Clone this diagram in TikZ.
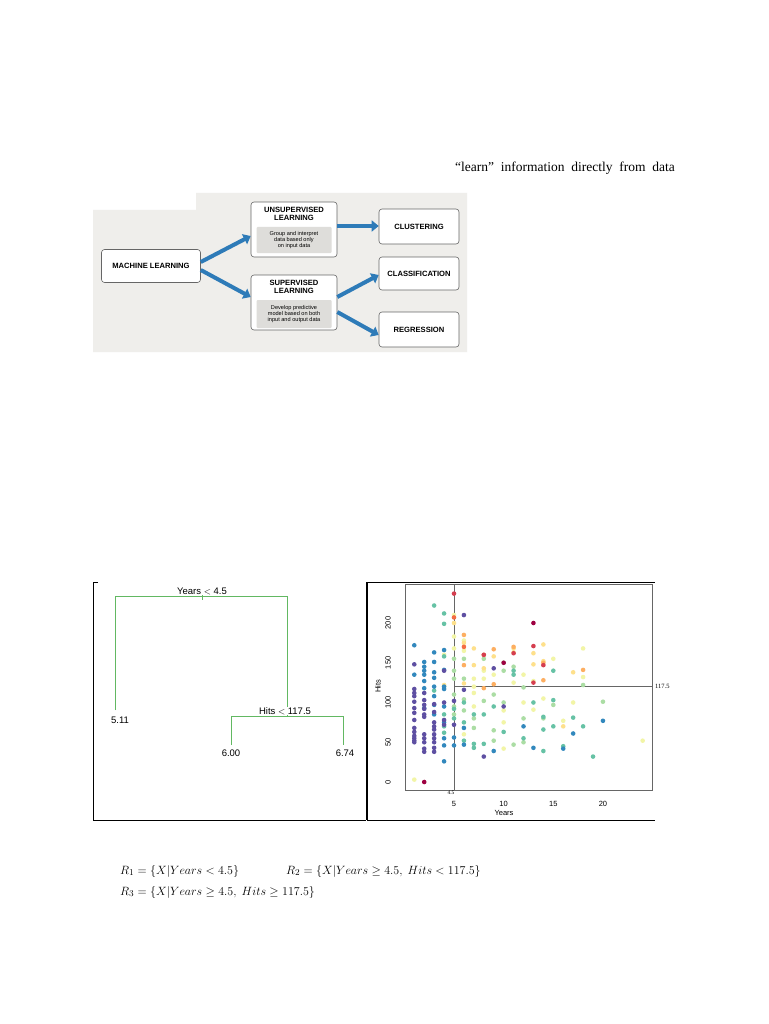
\documentclass[tikz,border=0pt]{standalone}
\usepackage{fontspec}
\setmainfont{Liberation Serif}
\newfontfamily\sansf{Liberation Sans}
\usetikzlibrary{arrows.meta}
\definecolor{bgg}{HTML}{EFEEEB}
\definecolor{inner}{HTML}{DEDDDA}
\definecolor{arr}{HTML}{2E7BB8}
\definecolor{treeg}{HTML}{62B862}
\definecolor{cP}{HTML}{5E4FA2}
\definecolor{cB}{HTML}{3288BD}
\definecolor{cT}{HTML}{66C2A5}
\definecolor{cG}{HTML}{ABDDA4}
\definecolor{cY}{HTML}{F2F5A6}
\definecolor{cLO}{HTML}{FEE08B}
\definecolor{cO}{HTML}{FDAE61}
\definecolor{cDO}{HTML}{F46D43}
\definecolor{cR}{HTML}{D53E4F}
\definecolor{cDR}{HTML}{9E0142}
\tikzset{
  mlbox/.style={draw=black!60,fill=white,rounded corners=3pt,line width=0.6pt,font=\sansf\bfseries\fontsize{7.6}{8.6}\selectfont,align=center},
  subbox/.style={fill=inner,rounded corners=1pt,font=\sansf\fontsize{5.6}{6.2}\selectfont,align=center,inner sep=1pt},
  ttl/.style={font=\sansf\bfseries\fontsize{7.6}{8.6}\selectfont,align=center},
  bigarr/.style={arr,line width=4pt,-{Triangle[length=7pt,width=11pt]}},
  tl/.style={treeg,line width=0.8pt},
  tlab/.style={font=\sansf\fontsize{9.5}{10}\selectfont,inner sep=0pt},
  axl/.style={font=\sansf\fontsize{7.5}{8}\selectfont,inner sep=0pt},
}
\newcommand{\pts}[2]{\foreach \a/\b in {#2}{\fill[#1] ({454+(\a-5)*9.93},{782-\b*0.795}) circle (2.3);}}
\begin{document}
\begin{tikzpicture}[x=1pt,y=-1pt]
\useasboundingbox (0,0) rectangle (768,1024);
\fill[white] (0,0) rectangle (768,1024);
\node[anchor=east,font=\fontsize{13.5}{15}\selectfont,inner sep=0pt] (quote) at (675,168) {“learn”\ \ information\ \ directly\ \ from\ \ data};
% ML diagram
\fill[bgg] (93,210) -- (196,210) -- (196,193) -- (467,193) -- (467,352) -- (93,352) -- cycle;
\node[mlbox,minimum width=99pt,minimum height=33pt] (ml) at (151,266) {MACHINE LEARNING};
\node[mlbox,minimum width=86pt,minimum height=55pt] (uns) at (294,229.5) {};
\node[ttl] (unst) at (294,214) {UNSUPERVISED\\LEARNING};
\node[subbox,minimum width=75pt,minimum height=26pt] (unsd) at (294,240) {Group and interpret\\data based only\\on input data};
\node[mlbox,minimum width=86pt,minimum height=55pt] (sup) at (294,302.5) {};
\node[ttl] (supt) at (294,287) {SUPERVISED\\LEARNING};
\node[subbox,minimum width=75pt,minimum height=28pt] (supd) at (294,314) {Develop predictive\\model based on both\\input and output data};
\node[mlbox,minimum width=80pt,minimum height=35pt] (clu) at (419,226.5) {CLUSTERING};
\node[mlbox,minimum width=80pt,minimum height=33pt] (cla) at (419,273.5) {CLASSIFICATION};
\node[mlbox,minimum width=80pt,minimum height=35pt] (reg) at (419,329.5) {REGRESSION};
\draw[bigarr] (ml.east) ++(0,-4) coordinate (m1) -- (uns.west|-0,236);
\draw[bigarr] (ml.east) ++(0,4) coordinate (m2) -- (sup.west|-0,297);
\draw[bigarr] (uns.east|-0,226) -- (clu.west|-0,226);
\draw[bigarr] (sup.east|-0,297) -- (cla.west|-0,275);
\draw[bigarr] (sup.east|-0,312) -- (reg.west|-0,335);
% panels
\draw[line width=0.8pt] (98,582) -- (93,582) -- (93,820) -- (366,820);
\draw[line width=1.2pt] (367,582) -- (367,820);
\draw[line width=0.6pt] (367,582) -- (655,582);
\draw[line width=0.6pt] (367,820) -- (655,820);
% tree
\draw[tl] (115,710) -- (115,596) -- (287,596) -- (287,716);
\draw[tl] (202,592) -- (202,600);
\draw[tl] (231,745) -- (231,716) -- (343,716) -- (343,745);
\node[tlab,fill=white,inner sep=0.5pt] (r) at (202,591) {Years $<$ 4.5};
\node[tlab,fill=white,inner sep=0.5pt] (h) at (285,711) {Hits $<$ 117.5};
\node[tlab] (l1) at (120,720) {5.11};
\node[tlab] (l2) at (231,753) {6.00};
\node[tlab] (l3) at (345,753) {6.74};
% scatter
\draw[black!60,line width=0.5pt] (405,584) rectangle (652,790);
\draw[black!60,line width=0.5pt] (454,584) -- (454,790);
\draw[black!60,line width=0.5pt] (454,686) -- (652,686);
\node[font=\fontsize{6.5}{7}\selectfont,anchor=west,inner sep=0pt] (lab1) at (655,686) {117.5};
\node[font=\fontsize{5.5}{6}\selectfont,inner sep=0pt] (lab2) at (451,793) {4.5};
\foreach \v in {5,10,15,20}{\node[axl] at ({454+(\v-5)*9.93},804) {\v};}
\node[axl] (xl) at (504,813) {Years};
\foreach \v in {0,50,100,150,200}{\node[axl,rotate=90] at (388,{782-\v*0.795}) {\v};}
\node[axl,rotate=90] (yl) at (378,686) {Hits};
\pts{cG}{4/120,5/155,5/130,5/110,5/95,5/85,6/155,6/130,6/90,7/80,8/155,8/102,9/110,9/65,9/52,10/150,10/140,10/100,11/145,12/119,12/80,12/50,14/80,15/97,18/122,20/101,11/47,7/68,6/104,5/140}
\pts{cY}{1/3,5/210,5/183,5/168,6/178,6/165,7/95,7/120,7/112,8/130,9/135,10/90,10/75,10/42,11/125,12/135,12/100,13/127,13/91,14/105,15/155,16/77,17/100,18/132,18/168,24/52,6/60,8/140,4/160,7/130}
\pts{cLO}{5/200,6/175,7/168,7/147,8/143,9/158,11/163,11/168,13/162,13/148,14/173,14/152,16/70,17/138,6/124,4/122}
\pts{cT}{3/222,4/212,4/199,4/158,3/115,4/85,4/70,5/92,5/80,6/100,6/75,7/85,7/48,7/43,8/85,8/48,9/95,10/63,11/140,11/135,12/55,13/100,14/82,14/66,14/39,15/140,15/103,15/70,16/45,17/81,18/70,19/32,4/62,6/52}
\pts{cB}{1/172,1/135,2/151,2/145,2/140,2/135,2/127,2/118,2/93,3/163,3/151,3/138,3/131,3/120,3/108,3/97,3/85,4/166,4/141,4/120,4/117,4/95,4/75,4/55,4/46,4/26,5/56,5/46,6/68,6/47,9/39,12/70,13/43,17/61,20/77,16/42}
\pts{cP}{1/148,1/117,1/112,1/108,1/101,1/93,1/87,1/78,1/68,1/63,1/58,1/55,1/52,1/50,2/112,2/103,2/97,2/92,2/85,2/82,2/60,2/55,2/50,2/42,2/38,3/98,3/88,3/75,3/70,3/66,3/60,3/55,3/50,3/43,3/38,4/100,4/140,4/78,4/72,5/102,5/72,6/116,6/210,8/32,10/95,9/143}
\pts{cO}{6/185,6/147,8/160,8/118,9/167,9/123,11/170,14/150,14/128,18/141}
\pts{cDO}{5/207,6/170}
\pts{cR}{5/237,8/160,11/162,13/171,13/125,14/147}
\pts{cDR}{2/0,10/150,13/200}
% equations
\node[anchor=west,font=\fontsize{12.5}{14}\selectfont,inner sep=0pt] (e1) at (120,871) {$R_1=\{X|Years<4.5\}$};
\node[anchor=west,font=\fontsize{12.5}{14}\selectfont,inner sep=0pt] (e2) at (286,871) {$R_2=\{X|Years\geq 4.5,\ Hits<117.5\}$};
\node[anchor=west,font=\fontsize{12.5}{14}\selectfont,inner sep=0pt] (e3) at (120,892) {$R_3=\{X|Years\geq 4.5,\ Hits\geq 117.5\}$};
\end{tikzpicture}
\end{document}
